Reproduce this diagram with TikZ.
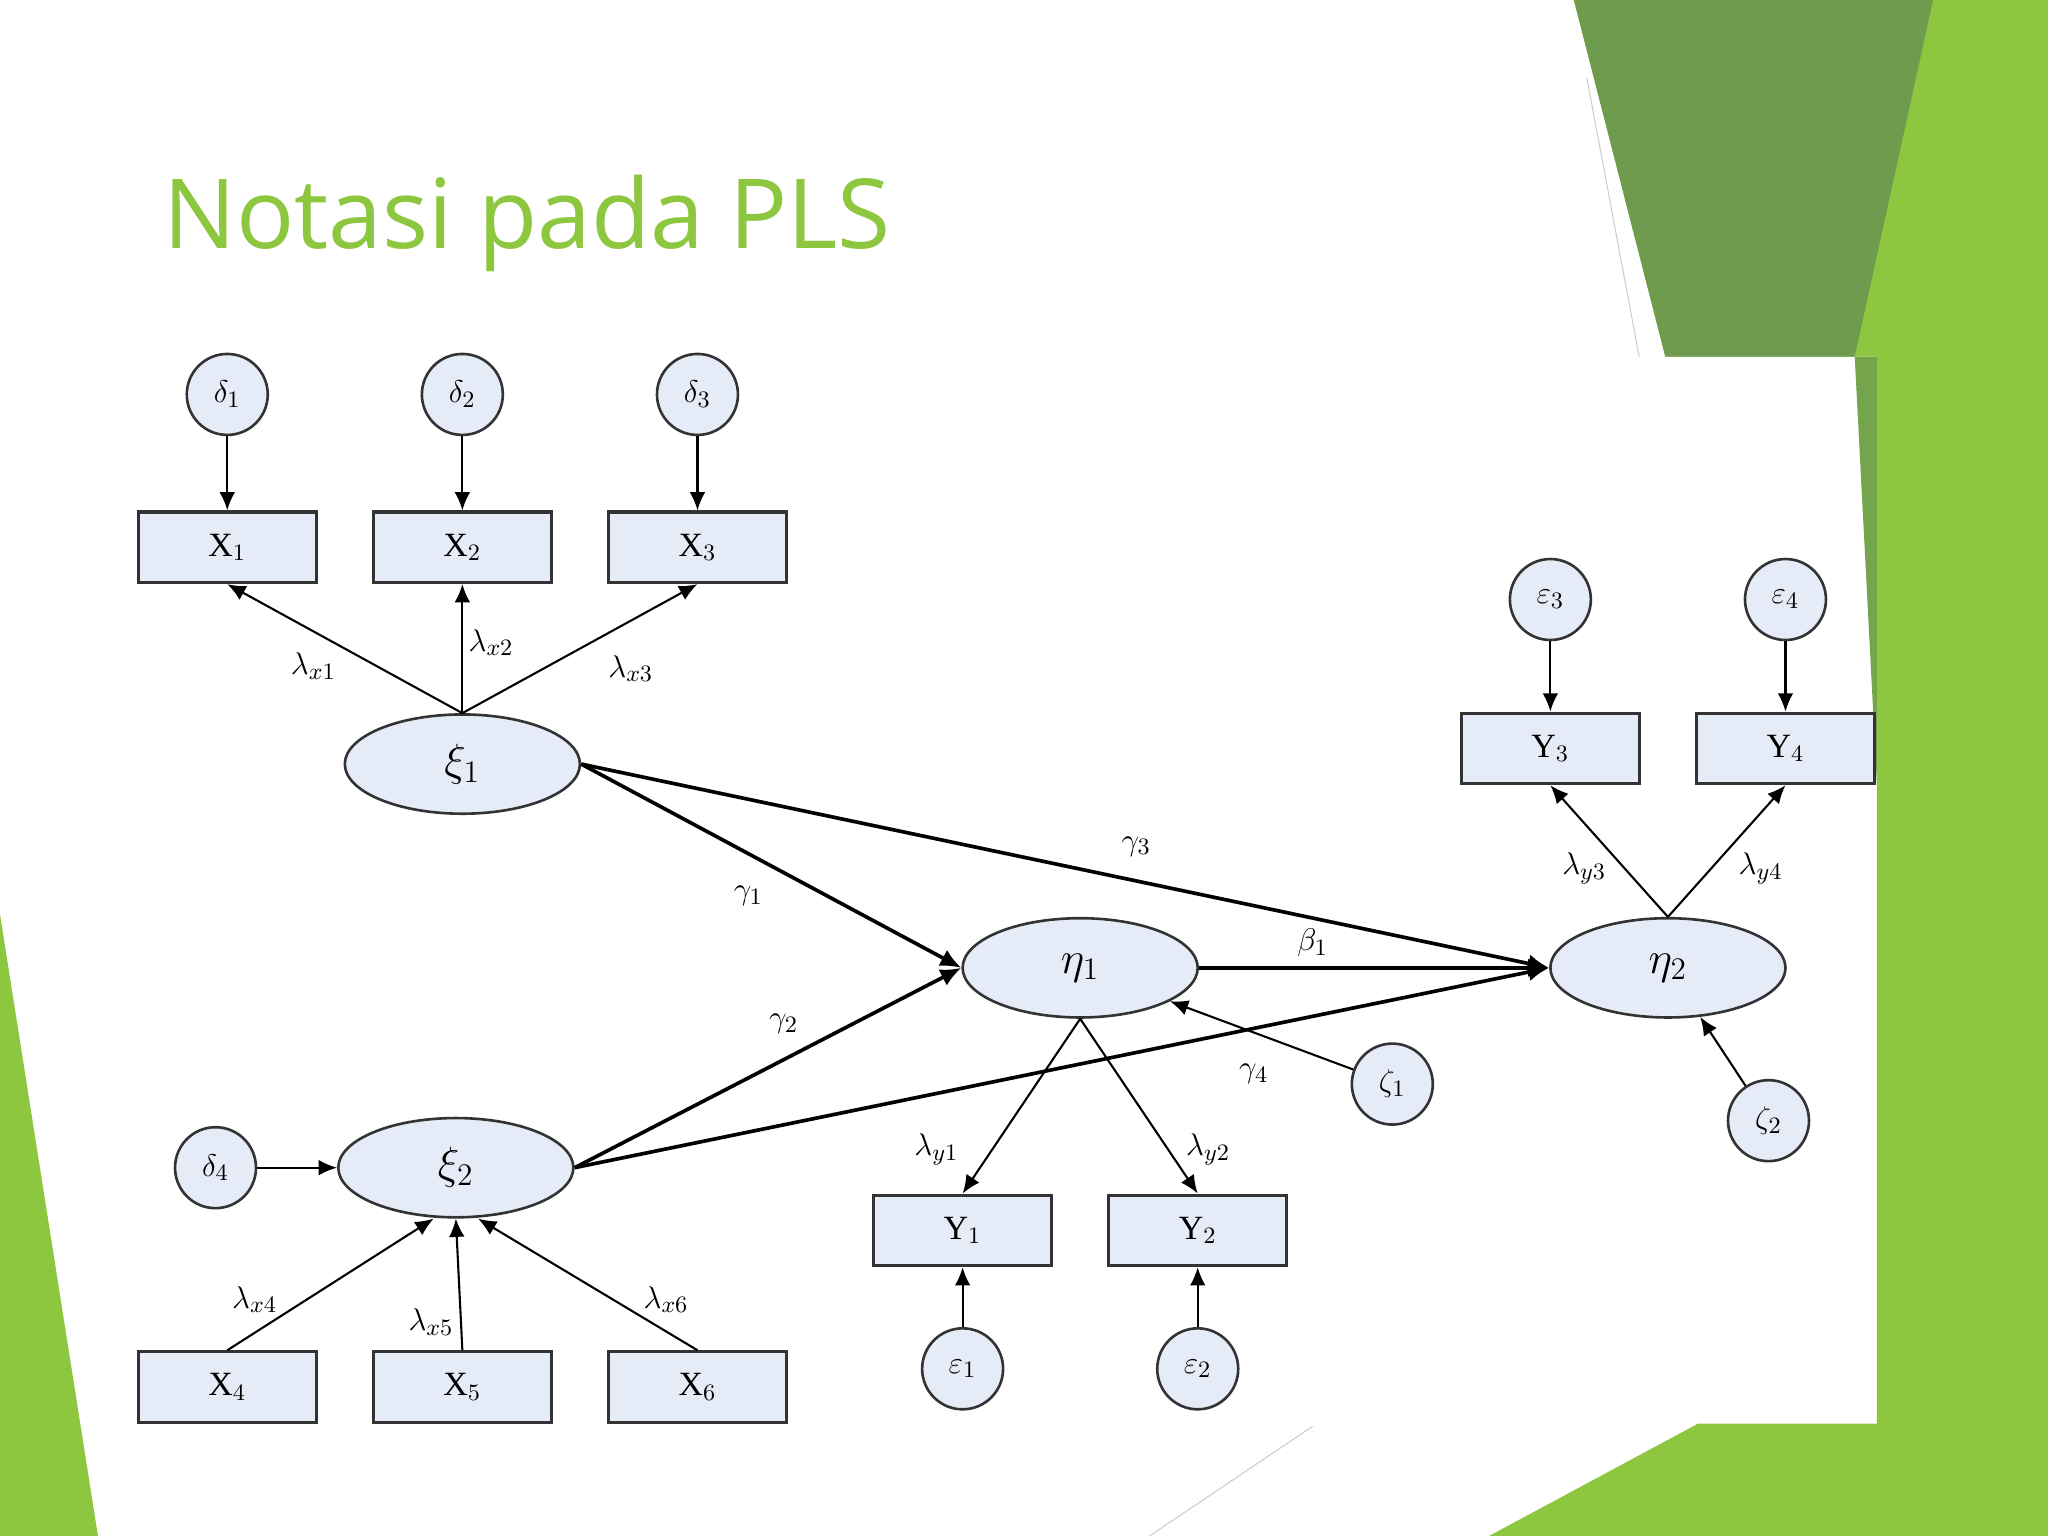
\documentclass[tikz,border=0pt]{standalone}
\usepackage{fontspec}
\setmainfont{Liberation Serif}
\newfontfamily\titlefont{Open Sans}
\usetikzlibrary{shapes.geometric,arrows.meta}
\definecolor{lg}{HTML}{8DC63F}
\definecolor{dg}{HTML}{6E9B4E}
\definecolor{nf}{HTML}{E6ECF7}
\begin{document}
\begin{tikzpicture}[x=0.5pt,y=-0.5pt,
 box/.style={draw=black!80,line width=1.2pt,fill=nf,minimum width=68pt,minimum height=27pt,inner sep=0pt,font=\fontsize{13}{13}\selectfont},
 err/.style={circle,draw=black!80,line width=1pt,fill=nf,minimum size=31pt,inner sep=0pt,font=\fontsize{13}{13}\selectfont},
 lat/.style={ellipse,draw=black!80,line width=1pt,fill=nf,minimum width=90pt,minimum height=38pt,inner sep=0pt,font=\fontsize{17}{17}\selectfont},
 ar/.style={-{Latex[length=7pt,width=6pt]},line width=0.8pt},
 tar/.style={-{Latex[length=8pt,width=7pt]},line width=1.4pt},
 lb/.style={font=\fontsize{13}{13}\selectfont}]
\useasboundingbox (0,0) rectangle (1568,1176);
\fill[white] (0,0) rectangle (1568,1176);
\fill[lg] (1205,0)--(1568,0)--(1568,1176)--(1140,1176)--(1300,1090)--(1437,1090)--(1437,273)--(1275,273)--cycle;
\fill[dg] (1205,0)--(1480,0)--(1420,273)--(1275,273)--cycle;
\fill[dg!80!lg] (1437,273)--(1420,273)--(1437,600)--cycle;
\fill[lg] (0,700)--(0,1176)--(75,1176)--cycle;
\draw[black!20] (1215,60)--(1255,273);
\draw[black!20] (880,1176)--(1005,1092);
\node[anchor=base west,text=lg,font=\titlefont\fontsize{37}{37}\selectfont] (title) at (118,190) {Notasi pada PLS};
% nodes
\node[err] (d1) at (174,302) {$\delta_1$};
\node[err] (d2) at (354,302) {$\delta_2$};
\node[err] (d3) at (534,302) {$\delta_3$};
\node[box] (x1) at (174,419) {X$_1$};
\node[box] (x2) at (354,419) {X$_2$};
\node[box] (x3) at (534,419) {X$_3$};
\node[lat] (k1) at (354,585) {$\xi_1$};
\node[lat] (k2) at (349,894) {$\xi_2$};
\node[err] (d4) at (165,894) {$\delta_4$};
\node[box] (x4) at (174,1062) {X$_4$};
\node[box] (x5) at (354,1062) {X$_5$};
\node[box] (x6) at (534,1062) {X$_6$};
\node[lat] (e1) at (827,741) {$\eta_1$};
\node[lat] (e2) at (1277,741) {$\eta_2$};
\node[err] (z1) at (1066,830) {$\zeta_1$};
\node[err] (z2) at (1354,858) {$\zeta_2$};
\node[box] (y1) at (737,942) {Y$_1$};
\node[box] (y2) at (917,942) {Y$_2$};
\node[err] (ep1) at (737,1048) {$\varepsilon_1$};
\node[err] (ep2) at (917,1048) {$\varepsilon_2$};
\node[box] (y3) at (1187,573) {Y$_3$};
\node[box] (y4) at (1367,573) {Y$_4$};
\node[err] (ep3) at (1187,459) {$\varepsilon_3$};
\node[err] (ep4) at (1367,459) {$\varepsilon_4$};
\coordinate (k2a) at (332,933);
\coordinate (k2b) at (349,933);
\coordinate (k2c) at (366,933);
% edges
\foreach \a/\b in {d1/x1,d2/x2,d3/x3,ep3/y3,ep4/y4} \draw[ar] (\a) -- (\b);
\draw[ar] (ep1) -- (y1); \draw[ar] (ep2) -- (y2);
\draw[ar] (k1.north) -- (x1.south);
\draw[ar] (k1.north) -- (x2.south);
\draw[ar] (k1.north) -- (x3.south);
\draw[ar] (x4.north) -- (k2a);
\draw[ar] (x5.north) -- (k2b);
\draw[ar] (x6.north) -- (k2c);
\draw[ar] (d4) -- (k2);
\draw[ar] (e1.south) -- (y1.north);
\draw[ar] (e1.south) -- (y2.north);
\draw[ar] (e2.north) -- (y3.south);
\draw[ar] (e2.north) -- (y4.south);
\draw[tar] (k1.east) -- (e1.west);
\draw[tar] (k1.east) -- (e2.west);
\draw[tar] (k2.east) -- (e1.west);
\draw[tar] (k2.east) -- (e2.west);
\draw[tar] (e1) -- (e2);
\draw[ar] (z1) -- (e1);
\draw[ar] (z2) -- (e2);
% labels
\node[lb] (l1) at (240,510) {$\lambda_{x1}$};
\node[lb] (l2) at (376,492) {$\lambda_{x2}$};
\node[lb] (l3) at (483,512) {$\lambda_{x3}$};
\node[lb] (l4) at (195,995) {$\lambda_{x4}$};
\node[lb] (l5) at (330,1012) {$\lambda_{x5}$};
\node[lb] (l6) at (510,995) {$\lambda_{x6}$};
\node[lb] (ly1) at (717,880) {$\lambda_{y1}$};
\node[lb] (ly2) at (925,880) {$\lambda_{y2}$};
\node[lb] (ly3) at (1213,665) {$\lambda_{y3}$};
\node[lb] (ly4) at (1348,665) {$\lambda_{y4}$};
\node[lb] (g1) at (573,686) {$\gamma_1$};
\node[lb] (g2) at (600,784) {$\gamma_2$};
\node[lb] (g3) at (870,648) {$\gamma_3$};
\node[lb] (g4) at (960,822) {$\gamma_4$};
\node[lb] (b1) at (1005,722) {$\beta_1$};
\end{tikzpicture}
\end{document}
